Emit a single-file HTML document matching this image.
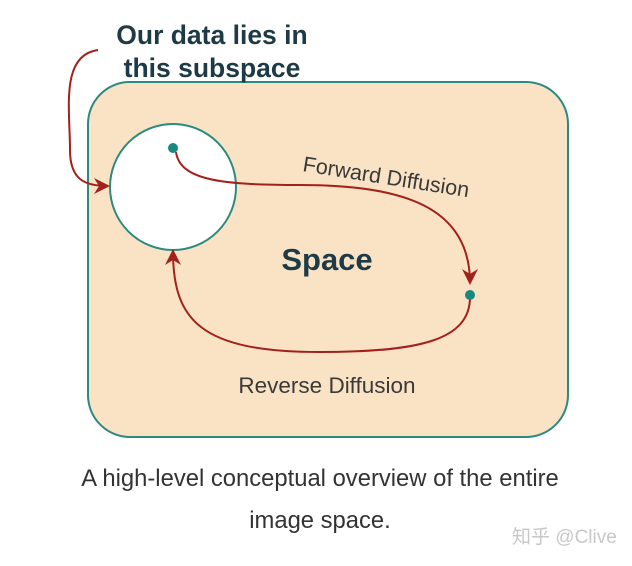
<!DOCTYPE html>
<html><head><style>
body{margin:0;width:632px;height:561px;background:#fff;overflow:hidden;font-family:"Liberation Sans",sans-serif}
</style></head><body>
<svg width="632" height="561" xmlns="http://www.w3.org/2000/svg">
<defs>
<marker id="b" markerWidth="16" markerHeight="16" refX="14" refY="8" orient="auto" markerUnits="userSpaceOnUse" viewBox="0 0 16 16"><path d="M0,0 L16,8 L0,16 L5,8 z" fill="#a3211b"/></marker></defs>
<rect x="88" y="82" width="480" height="355" rx="42" fill="#fae3c5" stroke="#2b8a80" stroke-width="2"/>
<circle cx="173" cy="187" r="63" fill="#fff" stroke="#2b8a80" stroke-width="2"/>
<text x="212" y="44" font-size="26.5" font-weight="bold" fill="#1e3a46" text-anchor="middle">Our data lies in</text>
<text x="212" y="77" font-size="26.5" font-weight="bold" fill="#1e3a46" text-anchor="middle">this subspace</text>
<path d="M98,50 C60,55 70,110 70,150 C70,180 85,186 108,186" fill="none" stroke="#a3211b" stroke-width="2" marker-end="url(#b)"/>
<path d="M176,152 C180,180 220,185 300,185 C400,185 470,205 470,283" fill="none" stroke="#a3211b" stroke-width="2" marker-end="url(#b)"/>
<path d="M470,297 C470,340 420,352 320,352 C200,352 173,320 173,251" fill="none" stroke="#a3211b" stroke-width="2" marker-end="url(#b)"/>
<circle cx="173" cy="148" r="5" fill="#19897f"/>
<circle cx="470" cy="295" r="5" fill="#19897f"/>
<text x="0" y="0" font-size="21.5" fill="#3a3a3a" transform="translate(302,171) rotate(9)">Forward Diffusion</text>
<text x="327" y="270" font-size="31" font-weight="bold" fill="#1e3a46" text-anchor="middle">Space</text>
<text x="327" y="393" font-size="22.5" fill="#3a3a3a" text-anchor="middle">Reverse Diffusion</text>
<text x="320" y="486" font-size="23.8" fill="#333" text-anchor="middle">A high-level conceptual overview of the entire</text>
<text x="320" y="528" font-size="23.8" fill="#333" text-anchor="middle">image space.</text>
<text x="512" y="543" font-size="19" fill="#c8c8c8" font-family="Liberation Sans, Noto Sans CJK SC, sans-serif">知乎 @Clive</text>
</svg>
</body></html>
